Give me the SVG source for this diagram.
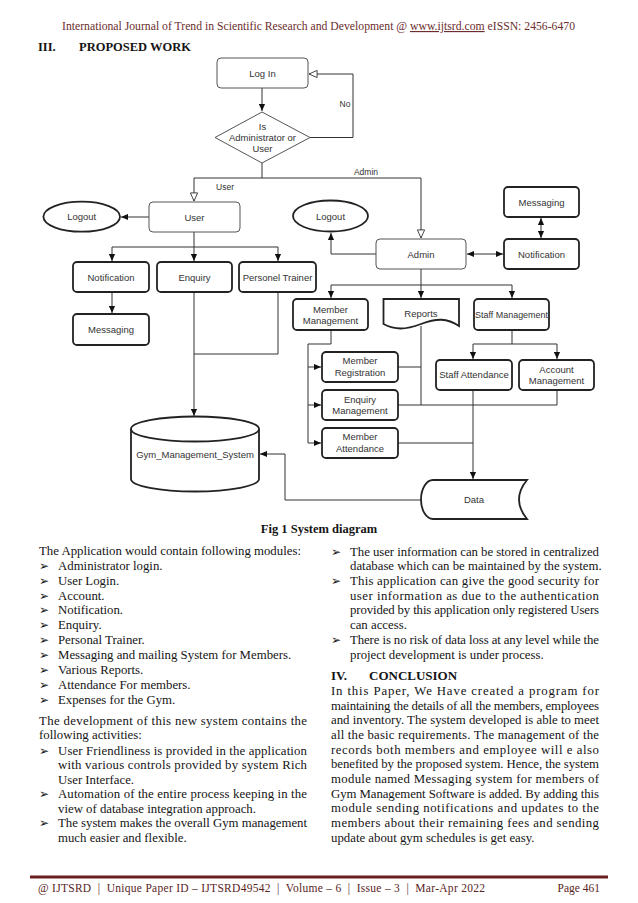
<svg xmlns="http://www.w3.org/2000/svg" width="638" height="903" viewBox="0 0 638 903">
<style>
.bg{fill:#fff}
.n{fill:#fff;stroke:#222;stroke-width:1.8}
.t{fill:#fff;stroke:#555;stroke-width:1}
.lbl{font-family:"Liberation Sans",Arial,sans-serif;font-size:9.5px;fill:#333;text-anchor:middle}
.sm{font-family:"Liberation Sans",Arial,sans-serif;font-size:8.5px;fill:#333;text-anchor:middle}
.c{fill:none;stroke:#333;stroke-width:1}
.body{font-family:"Liberation Serif","Times New Roman",serif;font-size:12.8px;fill:#151515}
.bul{font-family:"DejaVu Sans",sans-serif;font-size:12px;fill:#151515}
.hd{font-family:"Liberation Serif","Times New Roman",serif;font-size:12.5px;font-weight:bold;fill:#151515}
.hdr{font-family:"Liberation Serif","Times New Roman",serif;font-size:11.5px;fill:#6b2d2d}
.ftr{font-family:"Liberation Serif","Times New Roman",serif;font-size:11.5px;fill:#5a2424}
</style>
<defs>
<marker id="a" viewBox="0 0 8 8" refX="8" refY="4" markerWidth="7" markerHeight="7" markerUnits="userSpaceOnUse" orient="auto-start-reverse">
<path d="M0,0.5 L8,4 L0,7.5 z" fill="#111"/>
</marker>
<marker id="o" viewBox="0 0 10 10" refX="9.5" refY="5" markerWidth="9" markerHeight="9" markerUnits="userSpaceOnUse" orient="auto">
<path d="M0.5,1 L9.5,5 L0.5,9 z" fill="#fff" stroke="#333" stroke-width="1"/>
</marker>
</defs>
<rect class="bg" x="0" y="0" width="638" height="903"/>

<!-- header -->
<text class="hdr" x="62" y="30" textLength="513" lengthAdjust="spacingAndGlyphs">International Journal of Trend in Scientific Research and Development @ <tspan text-decoration="underline">www.ijtsrd.com</tspan> eISSN: 2456-6470</text>
<text class="hd" x="38" y="51">III.</text>
<text class="hd" x="79" y="51">PROPOSED WORK</text>

<!-- connectors -->
<g id="connectors">
<path class="c" d="M262,88 V111" marker-end="url(#a)"/>
<path class="c" d="M310,137.5 H353 V74 H309" marker-end="url(#o)"/>
<path class="c" d="M262,163 V178 M194,178 H421"/>
<path class="c" d="M194,178 V201" marker-end="url(#o)"/>
<path class="c" d="M421,178 V238" marker-end="url(#o)"/>
<path class="c" d="M149,217 H121" marker-end="url(#a)"/>
<path class="c" d="M194,232 V247 M112,247 H278"/>
<path class="c" d="M112,247 V261" marker-end="url(#a)"/>
<path class="c" d="M194,247 V261" marker-end="url(#a)"/>
<path class="c" d="M278,247 V261" marker-end="url(#a)"/>
<path class="c" d="M112,292 V313" marker-end="url(#a)"/>
<path class="c" d="M194,292 V416" marker-end="url(#a)"/>
<path class="c" d="M278,292 V354 H194"/>
<path class="c" d="M376,254 H331 V233" marker-end="url(#a)"/>
<path class="c" d="M467,254 H503" marker-start="url(#a)" marker-end="url(#a)"/>
<path class="c" d="M541,218 V238" marker-start="url(#a)" marker-end="url(#a)"/>
<path class="c" d="M421,269 V285 M331,285 H512"/>
<path class="c" d="M331,285 V298" marker-end="url(#a)"/>
<path class="c" d="M421,285 V298" marker-end="url(#a)"/>
<path class="c" d="M512,285 V298" marker-end="url(#a)"/>
<path class="c" d="M331,330 V344 H308 V443"/>
<path class="c" d="M308,367 H321" marker-end="url(#a)"/>
<path class="c" d="M308,405 H321" marker-end="url(#a)"/>
<path class="c" d="M308,443 H321" marker-end="url(#a)"/>
<path class="c" d="M421,326 V405 M398,367 H421 M398,405 H557 V390"/>
<path class="c" d="M512,330 V344 M473,344 H557"/>
<path class="c" d="M473,344 V359" marker-end="url(#a)"/>
<path class="c" d="M557,344 V359" marker-end="url(#a)"/>
<path class="c" d="M473,390 V479" marker-end="url(#a)"/>
<path class="c" d="M398,443 H473"/>
<path class="c" d="M421,500 H285 V454 H260" marker-end="url(#a)"/>
<text class="sm" x="345" y="107">No</text>
<text class="sm" x="366" y="175">Admin</text>
<text class="sm" x="225" y="190">User</text>
</g>

<!-- nodes -->
<g id="login"><rect class="t" x="217" y="58" width="91" height="30" rx="4"/><text class="lbl" x="262.5" y="76.5">Log In</text></g>
<g id="decision"><path class="t" d="M262,112 L310,137.5 L262,163 L215,137.5 Z"/>
<text class="lbl" x="262.5" y="130">Is</text><text class="lbl" x="262.5" y="141">Administrator or</text><text class="lbl" x="262.5" y="152">User</text></g>
<g id="user"><rect class="t" x="149" y="202" width="91" height="30" rx="4"/><text class="lbl" x="194.5" y="220.5">User</text></g>
<g id="logout-user"><ellipse class="n" cx="81.7" cy="216.7" rx="38.3" ry="15"/><text class="lbl" x="81.7" y="220">Logout</text></g>
<g id="logout-admin"><ellipse class="n" cx="330.5" cy="216" rx="37.5" ry="15.5"/><text class="lbl" x="330.5" y="219.5">Logout</text></g>
<g id="admin"><rect class="t" x="376" y="239" width="90" height="30" rx="4"/><text class="lbl" x="421" y="257.5">Admin</text></g>
<g id="messaging-admin"><rect class="n" x="504" y="187" width="75" height="30" rx="4"/><text class="lbl" x="541.5" y="205.5">Messaging</text></g>
<g id="notification-admin"><rect class="n" x="504" y="239" width="75" height="30" rx="4"/><text class="lbl" x="541.5" y="257.5">Notification</text></g>
<g id="notification-user"><rect class="n" x="73" y="262" width="76" height="30" rx="4"/><text class="lbl" x="111" y="280.5">Notification</text></g>
<g id="enquiry"><rect class="n" x="157" y="262" width="75" height="30" rx="4"/><text class="lbl" x="194.5" y="280.5">Enquiry</text></g>
<g id="trainer"><rect class="n" x="239" y="262" width="77" height="30" rx="4"/><text class="lbl" x="277.5" y="280.5">Personel Trainer</text></g>
<g id="messaging-user"><rect class="n" x="73" y="314" width="76" height="31" rx="4"/><text class="lbl" x="111" y="333">Messaging</text></g>
<g id="member-management"><rect class="n" x="293" y="299" width="75" height="31" rx="4"/><text class="lbl" x="330.5" y="312.5">Member</text><text class="lbl" x="330.5" y="324">Management</text></g>
<g id="reports"><path class="n" d="M383.5,299 H459 V326 C447,318 437,318 421,324 C405,330 395,330 383.5,324 Z"/><text class="lbl" x="421" y="317">Reports</text></g>
<g id="staff-management"><rect class="n" x="474" y="299" width="75" height="31" rx="4"/><text class="lbl" x="511.5" y="317.5" textLength="73" lengthAdjust="spacingAndGlyphs">Staff Management</text></g>
<g id="member-registration"><rect class="n" x="322" y="352" width="76" height="30" rx="4"/><text class="lbl" x="360" y="364">Member</text><text class="lbl" x="360" y="375.5">Registration</text></g>
<g id="enquiry-management"><rect class="n" x="322" y="390" width="76" height="30" rx="4"/><text class="lbl" x="360" y="402.5">Enquiry</text><text class="lbl" x="360" y="414">Management</text></g>
<g id="member-attendance"><rect class="n" x="322" y="428" width="76" height="30" rx="4"/><text class="lbl" x="360" y="440">Member</text><text class="lbl" x="360" y="451.5">Attendance</text></g>
<g id="staff-attendance"><rect class="n" x="436" y="360" width="76" height="30" rx="4"/><text class="lbl" x="474" y="378">Staff Attendance</text></g>
<g id="account-management"><rect class="n" x="519" y="360" width="75" height="30" rx="4"/><text class="lbl" x="556.5" y="372.5">Account</text><text class="lbl" x="556.5" y="384">Management</text></g>
<g id="database"><path class="n" d="M131,429 A64,12.5 0 0 1 259,429 V479 A64,12.5 0 0 1 131,479 Z"/><path class="n" fill="none" d="M131,429 A64,12.5 0 0 0 259,429"/><text class="lbl" x="195" y="457.5">Gym_Management_System</text></g>
<g id="data"><path class="n" d="M433,480 H527 Q511,499.5 527,519 H433 A12,19.5 0 0 1 433,480 Z"/><text class="lbl" x="474" y="503">Data</text></g>

<!-- caption -->
<text class="hd" x="319" y="533" text-anchor="middle">Fig 1 System diagram</text>

<!-- left column -->
<g id="left-col">
<text class="body" x="39" y="555">The Application would contain following modules:</text>
<text class="bul" x="39" y="569.9">➢</text><text class="body" x="58" y="569.9">Administrator login.</text>
<text class="bul" x="39" y="584.7">➢</text><text class="body" x="58" y="584.7">User Login.</text>
<text class="bul" x="39" y="599.6">➢</text><text class="body" x="58" y="599.6">Account.</text>
<text class="bul" x="39" y="614.4">➢</text><text class="body" x="58" y="614.4">Notification.</text>
<text class="bul" x="39" y="629.3">➢</text><text class="body" x="58" y="629.3">Enquiry.</text>
<text class="bul" x="39" y="644.1">➢</text><text class="body" x="58" y="644.1">Personal Trainer.</text>
<text class="bul" x="39" y="659">➢</text><text class="body" x="58" y="659">Messaging and mailing System for Members.</text>
<text class="bul" x="39" y="673.8">➢</text><text class="body" x="58" y="673.8">Various Reports.</text>
<text class="bul" x="39" y="688.7">➢</text><text class="body" x="58" y="688.7">Attendance For members.</text>
<text class="bul" x="39" y="703.5">➢</text><text class="body" x="58" y="703.5">Expenses for the Gym.</text>
<text class="body" x="39" y="724.5" textLength="268" lengthAdjust="spacing">The development of this new system contains the</text>
<text class="body" x="39" y="739">following activities:</text>
<text class="bul" x="39" y="754.5">➢</text><text class="body" x="58" y="754.5" textLength="249" lengthAdjust="spacing">User Friendliness is provided in the application</text>
<text class="body" x="58" y="769" textLength="249" lengthAdjust="spacing">with various controls provided by system Rich</text>
<text class="body" x="58" y="783.5">User Interface.</text>
<text class="bul" x="39" y="798">➢</text><text class="body" x="58" y="798" textLength="249" lengthAdjust="spacing">Automation of the entire process keeping in the</text>
<text class="body" x="58" y="812.5">view of database integration approach.</text>
<text class="bul" x="39" y="827">➢</text><text class="body" x="58" y="827" textLength="249" lengthAdjust="spacing">The system makes the overall Gym management</text>
<text class="body" x="58" y="841.5">much easier and flexible.</text>
</g>

<!-- right column -->
<g id="right-col">
<text class="bul" x="331" y="555.5">➢</text><text class="body" x="350" y="555.5" textLength="249" lengthAdjust="spacing">The user information can be stored in centralized</text>
<text class="body" x="350" y="570">database which can be maintained by the system.</text>
<text class="bul" x="331" y="585">➢</text><text class="body" x="350" y="585" textLength="249" lengthAdjust="spacing">This application can give the good security for</text>
<text class="body" x="350" y="599.5" textLength="249" lengthAdjust="spacing">user information as due to the authentication</text>
<text class="body" x="350" y="614" textLength="249" lengthAdjust="spacing">provided by this application only registered Users</text>
<text class="body" x="350" y="629">can access.</text>
<text class="bul" x="331" y="644">➢</text><text class="body" x="350" y="644" textLength="249" lengthAdjust="spacing">There is no risk of data loss at any level while the</text>
<text class="body" x="350" y="658.5">project development is under process.</text>
<text class="hd" x="331" y="680" style="font-size:13px">IV.</text>
<text class="hd" x="369" y="680" style="font-size:13px">CONCLUSION</text>
<text class="body" x="331" y="695" textLength="268" lengthAdjust="spacing">In this Paper, We Have created a program for</text>
<text class="body" x="331" y="709.7" textLength="268" lengthAdjust="spacing">maintaining the details of all the members, employees</text>
<text class="body" x="331" y="724.3" textLength="268" lengthAdjust="spacing">and inventory. The system developed is able to meet</text>
<text class="body" x="331" y="739" textLength="268" lengthAdjust="spacing">all the basic requirements. The management of the</text>
<text class="body" x="331" y="753.7" textLength="268" lengthAdjust="spacing">records both members and employee will e also</text>
<text class="body" x="331" y="768.3" textLength="268" lengthAdjust="spacing">benefited by the proposed system. Hence, the system</text>
<text class="body" x="331" y="783" textLength="268" lengthAdjust="spacing">module named Messaging system for members of</text>
<text class="body" x="331" y="797.7" textLength="268" lengthAdjust="spacing">Gym Management Software is added. By adding this</text>
<text class="body" x="331" y="812.3" textLength="268" lengthAdjust="spacing">module sending notifications and updates to the</text>
<text class="body" x="331" y="827" textLength="268" lengthAdjust="spacing">members about their remaining fees and sending</text>
<text class="body" x="331" y="841.7">update about gym schedules is get easy.</text>
</g>

<!-- footer -->
<rect x="30" y="875.5" width="578" height="3" fill="#6b1f1f"/>
<text class="ftr" x="38" y="892" xml:space="preserve" textLength="447" lengthAdjust="spacing">@ IJTSRD  |  Unique Paper ID – IJTSRD49542  |  Volume – 6  |  Issue – 3  |  Mar-Apr 2022</text>
<text class="ftr" x="600" y="892" text-anchor="end">Page 461</text>
</svg>
